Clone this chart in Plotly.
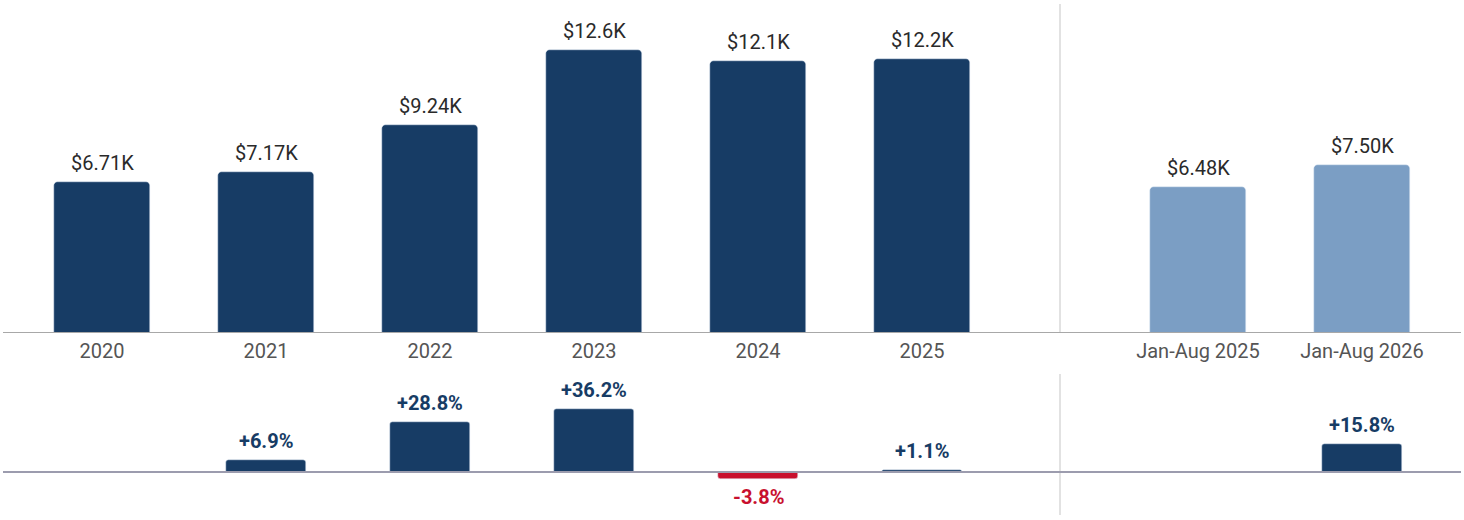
import plotly.graph_objects as go

W, H = 1464, 520

years = ["2020", "2021", "2022", "2023", "2024", "2025"]
annual_values = [6.71, 7.17, 9.24, 12.6, 12.1, 12.2]
annual_labels = ["$6.71K", "$7.17K", "$9.24K", "$12.6K", "$12.1K", "$12.2K"]

ytd_periods = ["Jan-Aug 2025", "Jan-Aug 2026"]
ytd_values = [6.48, 7.50]
ytd_labels = ["$6.48K", "$7.50K"]

annual_growth = [None, 6.9, 28.8, 36.2, -3.8, 1.1]
annual_growth_labels = ["", "+6.9%", "+28.8%", "+36.2%", "-3.8%", "+1.1%"]
ytd_growth = [None, 15.8]
ytd_growth_labels = ["", "+15.8%"]

NAVY = "#173c65"
LIGHT = "#7b9ec4"
RED = "#c8102e"
FONT = "Roboto"

def px_x(p):
    return p / W

def px_y(p):
    return (H - p) / H

fig = go.Figure()

fig.add_trace(go.Bar(
    x=years, y=annual_values,
    marker=dict(color=NAVY, cornerradius=4), width=0.58,
    xaxis="x", yaxis="y", showlegend=False))

fig.add_trace(go.Bar(
    x=ytd_periods, y=ytd_values,
    marker=dict(color=LIGHT, cornerradius=4), width=0.58,
    xaxis="x2", yaxis="y2", showlegend=False))

g_colors = [NAVY if (v is not None and v >= 0) else RED for v in annual_growth]
fig.add_trace(go.Bar(
    x=years, y=annual_growth,
    marker=dict(color=g_colors, cornerradius=3), width=0.49,
    xaxis="x3", yaxis="y3", showlegend=False))

fig.add_trace(go.Bar(
    x=ytd_periods, y=ytd_growth,
    marker=dict(color=NAVY, cornerradius=3), width=0.49,
    xaxis="x4", yaxis="y4", showlegend=False))

annotations = []

def add_labels(xs, vals, labels, xref, yref, color, bold):
    # category axes: position annotations by category index
    for i, (v, t) in enumerate(zip(vals, labels)):
        if v is None or not t:
            continue
        c = color if color else (NAVY if v >= 0 else RED)
        annotations.append(dict(
            x=i, y=v, xref=xref, yref=yref, text=t, showarrow=False,
            yanchor="bottom" if v >= 0 else "top",
            yshift=5 if v >= 0 else -4,
            font=dict(family=FONT, size=20, color=c,
                      weight="bold" if bold else "normal")))

add_labels(years, annual_values, annual_labels, "x", "y", "#2a2a2a", False)
add_labels(ytd_periods, ytd_values, ytd_labels, "x2", "y2", "#2a2a2a", False)
add_labels(years, annual_growth, annual_growth_labels, "x3", "y3", None, True)
add_labels(ytd_periods, ytd_growth, ytd_growth_labels, "x4", "y4", None, True)

top_dom = [px_y(333), px_y(4)]
bot_dom = [px_y(515), px_y(374)]
left_dom = [px_x(20), px_x(1004)]
right_dom = [px_x(1116), px_x(1444)]

tickfont = dict(family=FONT, size=20, color="#555555")

fig.update_layout(
    width=W, height=H,
    margin=dict(l=0, r=0, t=0, b=0),
    paper_bgcolor="white", plot_bgcolor="white",
    font=dict(family=FONT),
    xaxis=dict(domain=left_dom, anchor="y", type="category", range=[-0.5, 5.5],
               showgrid=False, showline=False, zeroline=False, ticks="",
               ticklabelstandoff=4, tickfont=tickfont),
    xaxis2=dict(domain=right_dom, anchor="y2", type="category", range=[-0.5, 1.5],
                showgrid=False, showline=False, zeroline=False, ticks="",
                ticklabelstandoff=4, tickfont=tickfont),
    yaxis=dict(domain=top_dom, range=[0, 14.65], visible=False),
    yaxis2=dict(domain=top_dom, range=[0, 14.65], visible=False, anchor="x2"),
    xaxis3=dict(domain=left_dom, anchor="y3", type="category", range=[-0.5, 5.5],
                showgrid=False, showline=False, zeroline=False, showticklabels=False),
    xaxis4=dict(domain=right_dom, anchor="y4", type="category", range=[-0.5, 1.5],
                showgrid=False, showline=False, zeroline=False, showticklabels=False),
    yaxis3=dict(domain=bot_dom, range=[-24.6, 56], visible=False, anchor="x3"),
    yaxis4=dict(domain=bot_dom, range=[-24.6, 56], visible=False, anchor="x4"),
    bargap=0,
    annotations=annotations,
)

shapes = [
    dict(type="line", xref="paper", yref="paper", x0=px_x(1060), x1=px_x(1060),
         y0=px_y(333), y1=px_y(4), line=dict(color="#e2e2e2", width=2), layer="below"),
    dict(type="line", xref="paper", yref="paper", x0=px_x(1060), x1=px_x(1060),
         y0=px_y(515), y1=px_y(374), line=dict(color="#e2e2e2", width=2), layer="below"),
    dict(type="line", xref="paper", yref="y", x0=px_x(3), x1=px_x(1461),
         y0=0, y1=0, line=dict(color="#a8a8a8", width=2), layer="above"),
    dict(type="line", xref="paper", yref="y3", x0=px_x(3), x1=px_x(1461),
         y0=0, y1=0, line=dict(color="#9c9cae", width=2), layer="above"),
]
fig.update_layout(shapes=shapes)

fig.write_html("out.html")
